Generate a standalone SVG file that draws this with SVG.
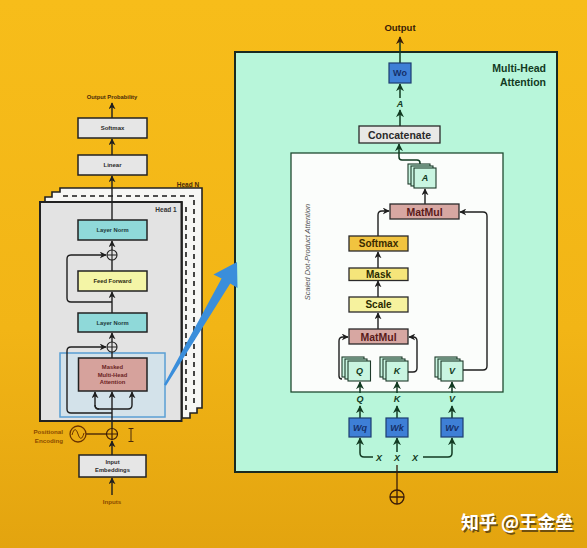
<svg xmlns="http://www.w3.org/2000/svg" width="587" height="548" viewBox="0 0 587 548">
<defs>
<linearGradient id="bg" x1="0" y1="0" x2="0" y2="1">
<stop offset="0" stop-color="#F7BD1A"/>
<stop offset="0.6" stop-color="#F2B516"/>
<stop offset="1" stop-color="#E3A40F"/>
</linearGradient>
<marker id="ah" viewBox="0 0 10 10" refX="9" refY="5" markerWidth="7" markerHeight="7" orient="auto-start-reverse" markerUnits="userSpaceOnUse">
<path d="M0,0 L10,5 L0,10 L3,5 z" fill="#1f1f1f"/>
</marker>
<marker id="ahg" viewBox="0 0 10 10" refX="9" refY="5" markerWidth="8" markerHeight="8" orient="auto-start-reverse" markerUnits="userSpaceOnUse">
<path d="M0,0 L10,5 L0,10 L3,5 z" fill="#123a22"/>
</marker>
<marker id="ahb" viewBox="0 0 10 10" refX="9" refY="5" markerWidth="8" markerHeight="8" orient="auto-start-reverse" markerUnits="userSpaceOnUse">
<path d="M0,0 L10,5 L0,10 L3,5 z" fill="#3a1c08"/>
</marker>
<style>
.t{font-family:"Liberation Sans",Arial,sans-serif;font-weight:bold;text-anchor:middle;dominant-baseline:central}
.ls{font-size:5.8px}
.lb{stroke:#222;stroke-width:1.5}
.ln{fill:none;stroke:#1f1f1f;stroke-width:1.4}
.lg{fill:none;stroke:#123a22;stroke-width:1.5}
.card{fill:#C9F5E1;stroke:#1e3a2a;stroke-width:1.1}
.w{fill:#3E7FD6;stroke:#1d3d70;stroke-width:1.2}
.wt{font-size:9px;font-style:italic;fill:#15306a}
.rb{stroke:#2a2a2a;stroke-width:1.3}
.rt{font-size:10.5px}
.it{font-style:italic;font-size:9px;fill:#123a22}
.op{fill:none;stroke:#1f1f1f;stroke-width:1.1}
</style>
</defs>
<rect width="587" height="548" fill="url(#bg)"/>

<!-- Left: decoder stack -->
<g id="head-stack">
<polygon points="45,202 45,197 52,197 52,192 60,192 60,188 202,188 202,408 197,408 197,413 190,413 190,418 182,418 182,202" fill="#F7F7F5" stroke="#222" stroke-width="1.6"/>
<path d="M63,196 H194 V405" fill="none" stroke="#1a1a1a" stroke-width="1.6" stroke-dasharray="5,4"/>
<path d="M186,207 V412" fill="none" stroke="#1a1a1a" stroke-width="1.6" stroke-dasharray="5,4"/>
<rect x="40" y="202" width="141.5" height="219" fill="#E3E3E3" stroke="#222" stroke-width="2"/>
<text class="t" x="188" y="184" font-size="6.5" fill="#4a2a0a">Head N</text>
<text class="t" x="166" y="209" font-size="6.5" fill="#333">Head 1</text>
</g>

<g id="highlight">
<rect x="60" y="353" width="105" height="64" fill="#BFE0F2" fill-opacity="0.45" stroke="#5A9FD4" stroke-width="1.5"/>
</g>

<g id="left-connectors">
<path class="ln" d="M112,118 V103" marker-end="url(#ah)"/>
<path class="ln" d="M112,155 V139" marker-end="url(#ah)"/>
<path class="ln" d="M112,220 V176" marker-end="url(#ah)"/>
<path class="ln" d="M112,250 V241" marker-end="url(#ah)"/>
<path class="ln" d="M112,271 V260"/>
<path class="ln" d="M112,313 V292" marker-end="url(#ah)"/>
<path class="ln" d="M112,302 H71 Q67,302 67,298 V259 Q67,255 71,255 H106" marker-end="url(#ah)"/>
<path class="ln" d="M112,342 V333" marker-end="url(#ah)"/>
<path class="ln" d="M112,358 V352"/>
<path class="ln" d="M112,413 H71 Q67,413 67,409 V351 Q67,347 71,347 H106" marker-end="url(#ah)"/>
<path class="ln" d="M112,428.5 V392" marker-end="url(#ah)"/>
<path class="ln" d="M99,409 Q95,409 95,405 V392" marker-end="url(#ah)"/>
<path class="ln" d="M95,405 Q95,409 99,409 H128 Q132,409 132,405 V392" marker-end="url(#ah)"/>
<path class="ln" d="M112,455 V441" marker-end="url(#ah)"/>
<path class="ln" d="M112,495 V478" marker-end="url(#ah)"/>
<path d="M86,434 H106.5" fill="none" stroke="#3a1c08" stroke-width="1.3"/>
</g>

<g id="output-probability"><text class="t ls" x="112" y="97" fill="#4a2a0a">Output Probability</text></g>
<g id="softmax-l"><rect class="lb" x="78" y="118" width="69" height="20" fill="#E6E6E6"/><text class="t" x="112.5" y="128" font-size="6" fill="#2a2a2a">Softmax</text></g>
<g id="linear-l"><rect class="lb" x="78" y="155" width="69" height="20" fill="#E6E6E6"/><text class="t" x="112.5" y="165" font-size="6" fill="#2a2a2a">Linear</text></g>
<g id="layernorm-1"><rect class="lb" x="78" y="220" width="69" height="20" fill="#8FD9D9"/><text class="t ls" x="112.5" y="230" fill="#1d3a3a">Layer Norm</text></g>
<g id="add-1"><circle cx="112" cy="255" r="5" class="op"/><path class="op" d="M107,255 H117 M112,250 V260"/></g>
<g id="feed-forward"><rect class="lb" x="78" y="271" width="69" height="20" fill="#F4F5A6"/><text class="t ls" x="112.5" y="281" fill="#2a2a10">Feed Forward</text></g>
<g id="layernorm-2"><rect class="lb" x="78" y="313" width="69" height="19" fill="#8FD9D9"/><text class="t ls" x="112.5" y="322.5" fill="#1d3a3a">Layer Norm</text></g>
<g id="add-2"><circle cx="112" cy="347" r="5" class="op"/><path class="op" d="M107,347 H117 M112,342 V352"/></g>
<g id="masked-mha"><rect class="lb" x="78.5" y="358" width="68.5" height="33" fill="#D6A29C"/>
<text class="t ls" x="112.5" y="367" fill="#6b1f1f">Masked</text>
<text class="t ls" x="112.5" y="374.5" fill="#6b1f1f">Multi-Head</text>
<text class="t ls" x="112.5" y="382" fill="#6b1f1f">Attention</text></g>
<g id="add-3"><circle cx="112" cy="434" r="5.5" fill="none" stroke="#3a1c08" stroke-width="1.2"/><path d="M106.5,434 H117.5 M112,428.5 V439.5" fill="none" stroke="#3a1c08" stroke-width="1.2"/></g>
<g id="positional-encoding">
<circle cx="78" cy="434" r="8" fill="none" stroke="#6a3300" stroke-width="1.3"/>
<path d="M72,435 C74,428 76,428 78,434 C80,440 82,440 84,433" fill="none" stroke="#6a3300" stroke-width="1"/>
<text class="t" x="63" y="431.5" font-size="6.2" fill="#8A4A00" text-anchor="end" style="text-anchor:end">Positional</text>
<text class="t" x="63" y="440" font-size="6.2" fill="#8A4A00" style="text-anchor:end">Encoding</text>
</g>
<g id="cursor"><path d="M128.5,428.5 H133.5 M131,428.5 V441.5 M128.5,441.5 H133.5" fill="none" stroke="#4a2a0a" stroke-width="1"/></g>
<g id="input-embeddings"><rect class="lb" x="79" y="455" width="67" height="22" fill="#E6E6E6"/>
<text class="t ls" x="112.5" y="462" fill="#2a2a2a">Input</text>
<text class="t ls" x="112.5" y="470" fill="#2a2a2a">Embeddings</text></g>
<g id="inputs"><text class="t" x="112" y="501" font-size="6.2" fill="#8A4A00">Inputs</text></g>

<!-- Right panel -->
<g id="mha-panel">
<rect x="235" y="52" width="322" height="420" fill="#B8F6DA" stroke="#1a2a20" stroke-width="2"/>
<text class="t" x="546" y="68" font-size="10.5" fill="#123a22" style="text-anchor:end">Multi-Head</text>
<text class="t" x="546" y="82" font-size="10.5" fill="#123a22" style="text-anchor:end">Attention</text>
</g>
<g id="sdpa-panel">
<rect x="291" y="153" width="212" height="239" fill="#FBFDFB" stroke="#1f4a30" stroke-width="1.3"/>
<text x="307" y="252" transform="rotate(-90 307 252)" font-family="'Liberation Sans',Arial,sans-serif" font-style="italic" font-size="7.5" fill="#555" text-anchor="middle" dominant-baseline="central">Scaled Dot-Product Attention</text>
</g>

<g id="blue-arrow">
<polygon points="164,384.5 221.6,278.5 213.5,274.5 237,262 237.5,288 230.2,283.5 166,385.8" fill="#3A8EDB"/>
</g>

<g id="connectors">
<path class="lg" d="M400,63 V37" marker-end="url(#ahb)" stroke="#3a1c08"/>
<path class="lg" d="M400,98 V84" marker-end="url(#ahg)"/>
<path class="lg" d="M400,126 V110" marker-end="url(#ahg)"/>
<path class="lg" d="M420,165 V163 Q420,160 417,160 H402 Q399,160 399,157 V144" marker-end="url(#ahg)"/>
<path class="ln" d="M425,204 V189" marker-end="url(#ah)" stroke-width="1.5"/>
<path class="ln" d="M378,236 V215 Q378,211 382,211 H389" marker-end="url(#ah)" stroke-width="1.5"/>
<path class="ln" d="M463,370 H483 Q487,370 487,366 V216 Q487,212 483,212 H460" marker-end="url(#ah)" stroke-width="1.5"/>
<path class="ln" d="M378,268 V252" marker-end="url(#ah)" stroke-width="1.5"/>
<path class="ln" d="M378,297 V281" marker-end="url(#ah)" stroke-width="1.5"/>
<path class="ln" d="M378,329 V313" marker-end="url(#ah)" stroke-width="1.5"/>
<path class="ln" d="M342,379 Q339,379 339,376 V341 Q339,337 343,337 H348" marker-end="url(#ah)" stroke-width="1.3"/>
<path class="ln" d="M408,372 H413 Q417,372 417,368 V341 Q417,337 413,337 H409" marker-end="url(#ah)" stroke-width="1.3"/>
<path class="lg" d="M360,393 V382" marker-end="url(#ahg)"/>
<path class="lg" d="M397,393 V382" marker-end="url(#ahg)"/>
<path class="lg" d="M452,393 V382" marker-end="url(#ahg)"/>
<path class="lg" d="M360,418 V406" marker-end="url(#ahg)"/>
<path class="lg" d="M397,418 V406" marker-end="url(#ahg)"/>
<path class="lg" d="M452,418 V406" marker-end="url(#ahg)"/>
<path class="lg" d="M373,457 H364 Q360,457 360,453 V438" marker-end="url(#ahg)"/>
<path class="lg" d="M397,452 V438" marker-end="url(#ahg)"/>
<path class="lg" d="M423,457 H448 Q452,457 452,453 V438" marker-end="url(#ahg)"/>
<path d="M397,465 V490" fill="none" stroke="#3a1c08" stroke-width="1.3"/>
</g>

<g id="output"><text class="t" x="400" y="27" font-size="9.5" fill="#3a1c08">Output</text></g>
<g id="wo"><rect class="w" x="389" y="63" width="22" height="20"/><text class="t" x="400" y="73" font-size="9" fill="#15306a">Wo</text></g>
<g id="a-top"><text class="t it" x="400" y="104">A</text></g>
<g id="concatenate"><rect class="rb" x="359" y="126" width="81" height="17" fill="#E8E8E6"/><text class="t rt" x="399.5" y="134.5" fill="#2a2a2a">Concatenate</text></g>
<g id="a-stack">
<rect class="card" x="408" y="164" width="22" height="20"/>
<rect class="card" x="411" y="166" width="22" height="20"/>
<rect class="card" x="414" y="168" width="22" height="20"/>
<text class="t it" x="425" y="178">A</text>
</g>
<g id="matmul-top"><rect class="rb" x="390" y="204" width="69" height="15" fill="#D7A7A2"/><text class="t rt" x="424.5" y="211.5" fill="#5a1a1a">MatMul</text></g>
<g id="softmax"><rect class="rb" x="349" y="236" width="59" height="15" fill="#F1C33F"/><text class="t" x="378.5" y="243.5" font-size="10" fill="#3a2a00">Softmax</text></g>
<g id="mask"><rect class="rb" x="349" y="268" width="59" height="12.5" fill="#F5E57A"/><text class="t" x="378.5" y="274.3" font-size="10" fill="#2a2a00">Mask</text></g>
<g id="scale"><rect class="rb" x="349" y="297" width="59" height="15" fill="#F6F29E"/><text class="t" x="378.5" y="304.5" font-size="10" fill="#2a2a00">Scale</text></g>
<g id="matmul-bottom"><rect class="rb" x="349" y="329" width="59" height="15" fill="#D7A7A2"/><text class="t rt" x="378.5" y="336.5" fill="#5a1a1a">MatMul</text></g>
<g id="q-stack">
<rect class="card" x="342" y="357" width="22" height="20"/>
<rect class="card" x="345" y="359" width="22" height="20"/>
<rect class="card" x="348" y="361" width="22.5" height="20"/>
<text class="t it" x="359.5" y="371">Q</text>
</g>
<g id="k-stack">
<rect class="card" x="380" y="357" width="22" height="20"/>
<rect class="card" x="383" y="359" width="22" height="20"/>
<rect class="card" x="386" y="361" width="22" height="20"/>
<text class="t it" x="397" y="371">K</text>
</g>
<g id="v-stack">
<rect class="card" x="435" y="357" width="22" height="20"/>
<rect class="card" x="438" y="359" width="22" height="20"/>
<rect class="card" x="441" y="361" width="22" height="20"/>
<text class="t it" x="452" y="371">V</text>
</g>
<g id="q-label"><text class="t it" x="360" y="399">Q</text></g>
<g id="k-label"><text class="t it" x="397" y="399">K</text></g>
<g id="v-label"><text class="t it" x="452" y="399">V</text></g>
<g id="wq"><rect class="w" x="349" y="418" width="22" height="19"/><text class="t wt" x="360" y="427.5">Wq</text></g>
<g id="wk"><rect class="w" x="386" y="418" width="22" height="19"/><text class="t wt" x="397" y="427.5">Wk</text></g>
<g id="wv"><rect class="w" x="441" y="418" width="22" height="19"/><text class="t wt" x="452" y="427.5">Wv</text></g>
<g id="x-labels">
<text class="t it" x="379" y="458">X</text>
<text class="t it" x="397" y="458">X</text>
<text class="t it" x="415" y="458">X</text>
</g>
<g id="add-bottom"><circle cx="397" cy="497" r="7" fill="none" stroke="#3a1c08" stroke-width="1.3"/><path d="M390,497 H404 M397,490 V504" fill="none" stroke="#3a1c08" stroke-width="1.3"/></g>

<g id="watermark">
<text x="462.5" y="530.5" font-family="'Noto Sans CJK SC',sans-serif" font-weight="bold" font-size="18" fill="#3a2a10" fill-opacity="0.7">知乎 @王金垒</text>
<text x="461" y="529" font-family="'Noto Sans CJK SC',sans-serif" font-weight="bold" font-size="18" fill="#FFFFFF">知乎 @王金垒</text>
</g>
</svg>
